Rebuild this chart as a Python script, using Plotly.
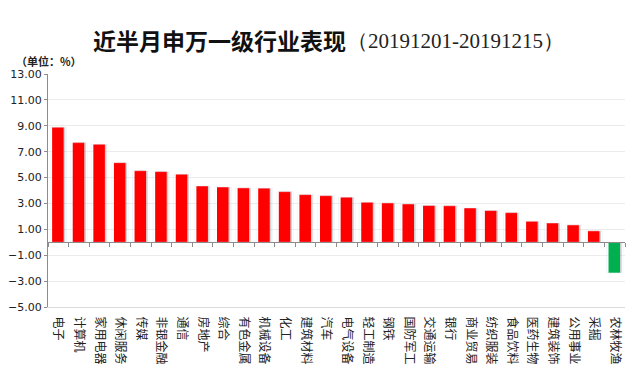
import plotly.graph_objects as go

industries = ["电子", "计算机", "家用电器", "休闲服务", "传媒", "非银金融", "通信", "房地产",
              "综合", "有色金属", "机械设备", "化工", "建筑材料", "汽车", "电气设备", "轻工制造",
              "钢铁", "国防军工", "交通运输", "银行", "商业贸易", "纺织服装", "食品饮料",
              "医药生物", "建筑装饰", "公用事业", "采掘", "农林牧渔"]
returns = [8.89, 7.70, 7.57, 6.15, 5.53, 5.46, 5.26, 4.35,
           4.27, 4.20, 4.18, 3.91, 3.68, 3.60, 3.48, 3.09,
           3.04, 2.96, 2.84, 2.82, 2.65, 2.45, 2.29,
           1.62, 1.49, 1.34, 0.88, -2.37]
y_ticks = [13, 11, 9, 7, 5, 3, 1, -1, -3, -5]

colors = ["#FF0000" if v >= 0 else "#00B050" for v in returns]

# page body has an 8px margin: figure is sized so that the plot lands where the reference has it
PAGE = 8
L, R, T, B = 48 - PAGE, 15, 74 - PAGE, 76
W, H = 640 - PAGE, 383 - PAGE
PW, PH = W - L - R, H - T - B


def px_x(x):
    return (x - PAGE - L) / PW


def px_y(y):
    return 1 + (T + PAGE - y) / PH


fig = go.Figure()
# soft drop shadow
fig.add_trace(go.Bar(x=industries, y=returns, width=0.56, offset=-0.22,
                     marker=dict(color="rgba(120,120,120,0.35)", line=dict(width=0)),
                     hoverinfo="skip", xaxis="x", yaxis="y"))
fig.add_trace(go.Bar(x=industries, y=returns, width=0.56, offset=-0.30,
                     marker=dict(color=colors, line=dict(width=0)),
                     xaxis="x", yaxis="y"))
# invisible trace carrying the bottom category labels
fig.add_trace(go.Bar(x=industries, y=returns, marker=dict(color="rgba(0,0,0,0)"),
                     hoverinfo="skip", xaxis="x2", yaxis="y"))

fig.update_layout(
    width=W, height=H,
    margin=dict(l=L, r=R, t=T, b=B),
    paper_bgcolor="white", plot_bgcolor="white",
    barmode="overlay", showlegend=False,
    font=dict(family="Noto Sans CJK SC", color="#222"),
    xaxis=dict(type="category", categoryorder="array", categoryarray=industries,
               anchor="free", position=5/18, showticklabels=False,
               showline=True, linecolor="#8c8c8c", linewidth=1,
               ticks="outside", tickson="boundaries", ticklen=4, tickcolor="#8c8c8c",
               showgrid=False, zeroline=False, range=[-0.5, 27.5]),
    xaxis2=dict(type="category", categoryorder="array", categoryarray=industries,
                overlaying="x", anchor="y", side="bottom", matches="x",
                tickangle=90, ticklabelstandoff=6,
                tickfont=dict(size=12, family="Noto Sans CJK SC", color="#222"),
                showline=True, linecolor="#d9d9d9", ticks="", showgrid=False, zeroline=False,
                automargin=False),
    yaxis=dict(range=[-5, 13], tickvals=y_ticks, tickformat=".2f",
               tickfont=dict(size=11, family="DejaVu Sans", color="#222"),
               showline=True, linecolor="#8c8c8c", ticks="outside", ticklen=3,
               tickcolor="#8c8c8c", showgrid=True, gridcolor="#ececec", zeroline=False,
               automargin=False),
    annotations=[
        dict(text="<b>近半月申万一级行业表现</b>", xref="paper", yref="paper",
             x=px_x(348), y=px_y(40), xanchor="right", yanchor="middle",
             showarrow=False, font=dict(size=23, family="Noto Sans CJK SC", color="#111")),
        dict(text="（20191201-20191215）", xref="paper", yref="paper",
             x=px_x(345), y=px_y(41), xanchor="left", yanchor="middle",
             showarrow=False, font=dict(size=21, family="Liberation Serif", color="#222")),
        dict(text="<b>（单位：%）</b>", xref="paper", yref="paper",
             x=px_x(14), y=px_y(61), xanchor="left", yanchor="middle",
             showarrow=False, font=dict(size=11, family="Noto Sans CJK SC", color="#222")),
    ],
)

fig.write_html("out.html")
